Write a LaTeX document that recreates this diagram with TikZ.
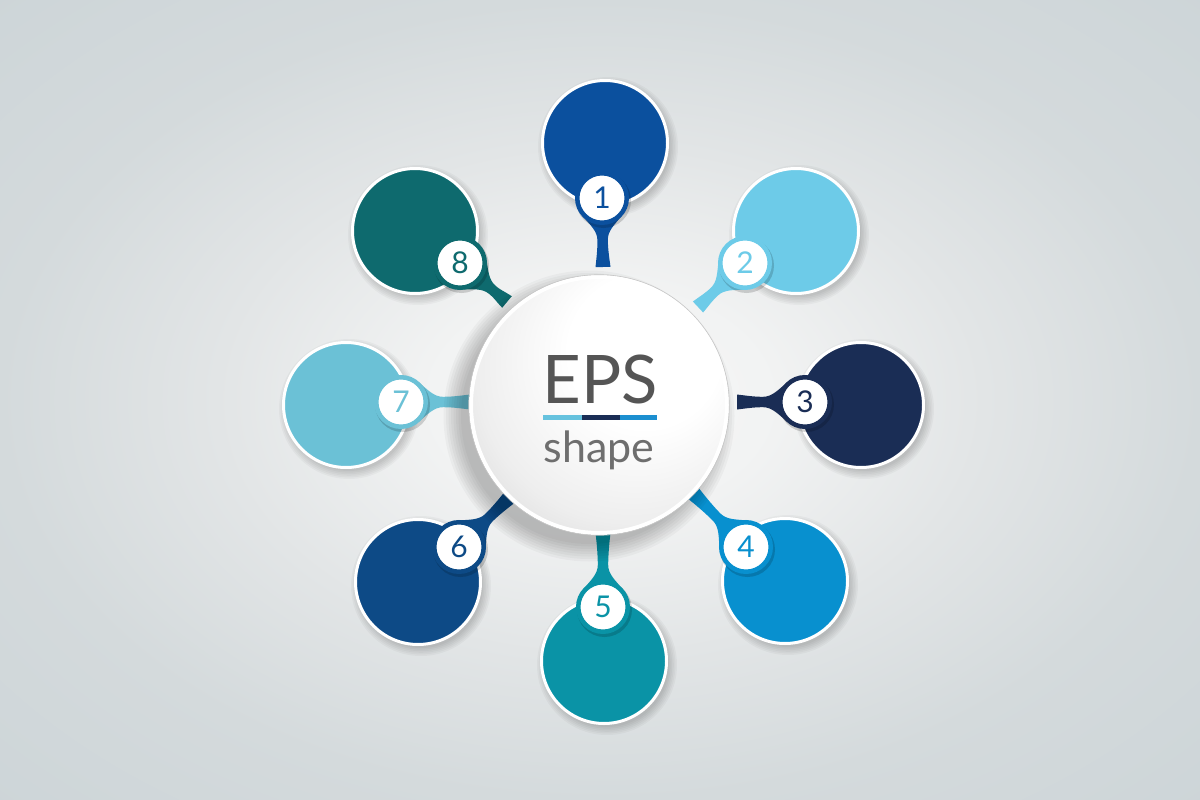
\documentclass[tikz,border=0pt]{standalone}
\usepackage{fontspec}
\setmainfont{Lato}
\usetikzlibrary{calc}
\definecolor{col1}{HTML}{0B509E}
\definecolor{col2}{HTML}{6DCBE8}
\definecolor{col3}{HTML}{1A2D55}
\definecolor{col4}{HTML}{0890CF}
\definecolor{col5}{HTML}{0A93A6}
\definecolor{col6}{HTML}{0D4A86}
\definecolor{col7}{HTML}{6BC1D6}
\definecolor{col8}{HTML}{0E6A6E}
\definecolor{barA}{HTML}{66C2DE}
\definecolor{barC}{HTML}{1C8FD0}
\definecolor{bgA}{HTML}{F6F6F6}
\definecolor{bgA2}{HTML}{F2F3F3}
\definecolor{bgB}{HTML}{E2E5E6}
\definecolor{bgB2}{HTML}{D4DADC}
\definecolor{bgC}{HTML}{CDD5D8}
\definecolor{discA}{HTML}{EEEEEE}
\definecolor{discB}{HTML}{D8D8D8}
\definecolor{discC}{HTML}{C6C6C6}
\definecolor{epsgray}{HTML}{555555}
\definecolor{shapegray}{HTML}{6E6E6E}
\pgfdeclareradialshading{bgshade}{\pgfpoint{0bp}{0bp}}{color(0bp)=(bgA); color(7bp)=(bgA2); color(16bp)=(bgB); color(25bp)=(bgB2); color(36bp)=(bgC); color(50bp)=(bgC)}
\pgfdeclareradialshading{discshade}{\pgfpoint{12bp}{14bp}}{color(0bp)=(white); color(15bp)=(white); color(30bp)=(discA); color(40bp)=(discB); color(48bp)=(discC); color(60bp)=(discC)}
\newcommand\softshadow[4]{\foreach \k in {0,...,5}{\fill[black,opacity=0.03] ($#1+(#3,#4)$) circle ({#2+\k*1.6});}}
\newcommand\drawstem[3]{%
  \path (#1); \pgfgetlastxy{\stAx}{\stAy}%
  \path (#2); \pgfgetlastxy{\stBx}{\stBy}%
  \pgfmathsetmacro\stemAng{atan2(\stBy-\stAy,\stBx-\stAx)}%
  \pgfmathsetmacro\stemLen{veclen(\stBx-\stAx,\stBy-\stAy)}%
  \begin{scope}[shift={(#1)},rotate=\stemAng]
    \fill[#3] (\stemLen,7.5) .. controls (\stemLen-12,6) and (50,5.2) .. (42,5.2)
      .. controls (33,5.2) and (27,12) .. (18,19.5) -- (18,-19.5)
      .. controls (27,-12) and (33,-5.2) .. (42,-5.2)
      .. controls (50,-5.2) and (\stemLen-12,-6) .. (\stemLen,-7.5) -- cycle;
  \end{scope}}
\tikzset{
  petal/.style={circle, draw=white, line width=3pt, minimum size=125pt, inner sep=0pt},
  badge/.style={circle, fill=white, draw=#1, line width=4.5pt, minimum size=49.5pt,
    inner sep=0pt, text=#1, font=\fontsize{30}{30}\selectfont},
  disc/.style={circle, minimum size=256pt, inner sep=0pt, shading=discshade, draw=white, line width=4pt}
}
\begin{document}
\begin{tikzpicture}[x=1pt,y=-1pt]
\useasboundingbox (0,0) rectangle (1200,800);
\shade[shading=bgshade] (0,0) rectangle (1200,800);
\foreach \i/\c/\b/\e/\col in {
  1/{605,143}/{602,198}/{603,267}/col1,
  2/{796,231}/{745,263}/{698,307}/col2,
  3/{861,405}/{805,402}/{737,402}/col3,
  4/{785,581}/{746,547}/{694,494}/col4,
  5/{604,661}/{603,607}/{603,533}/col5,
  6/{418,582}/{459,547}/{510,497}/col6,
  7/{346,405}/{401,402}/{470,402}/col7,
  8/{415,231}/{460,263}/{507,302}/col8}{
  \softshadow{(\c)}{62}{3}{4}
  \node[petal, fill=\col] (o\i) at (\c) {};
  \coordinate (p\i) at (\b);
  \coordinate (e\i) at (\e);
  \drawstem{p\i}{e\i}{\col}
  \fill[black, opacity=.16] ($(p\i)+(1.5,2.5)$) circle (27.5);
  \node[badge=\col] (b\i) at (p\i) {\i};
}
\foreach \k in {0,...,7}{\fill[black,opacity=0.03] (589,416) circle ({128+\k*2.5});}
\node[disc] (c) at (599,405) {};
\draw[black!22, line width=.6pt] (c.center) circle (130.3);
\node[font=\fontsize{67}{67}\selectfont, text=epsgray, anchor=base, inner sep=0pt] (eps) at (600,403) {EPS};
\node[font=\fontsize{43}{43}\selectfont, text=shapegray, anchor=base, inner sep=0pt] (shp) at (599,462) {shape};
\fill[barA] (543,415) rectangle (582,419.5);
\fill[col3] (582,415) rectangle (620,419.5);
\fill[barC] (620,415) rectangle (657,419.5);
\end{tikzpicture}
\end{document}
